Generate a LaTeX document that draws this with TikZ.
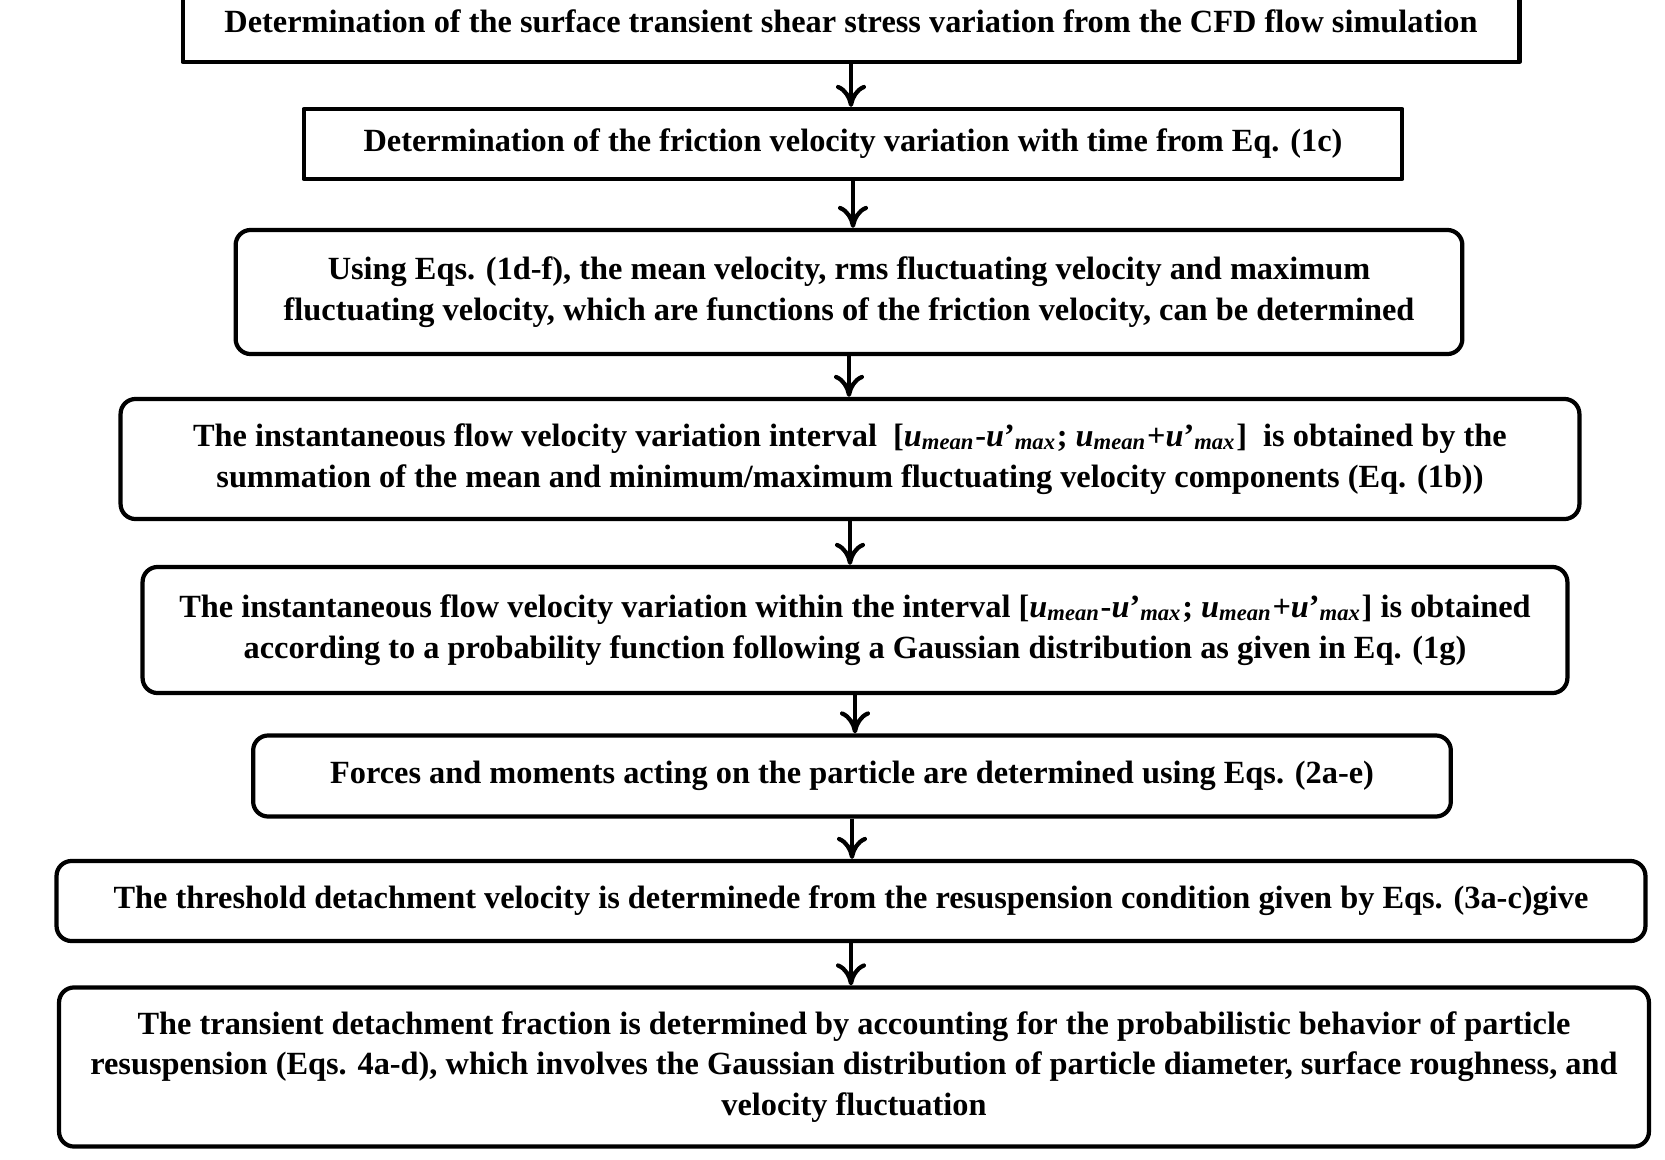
\documentclass[tikz,border=0pt]{standalone}
\usepackage{fontspec}
\setmainfont{Liberation Serif}
\usetikzlibrary{positioning}
\usetikzlibrary{arrows.meta}

\newcommand{\uint}{[\textit{u}\textsubscript{\textit{mean}}-\textit{u}’\textsubscript{\textit{max}}; \textit{u}\textsubscript{\textit{mean}}+\textit{u}’\textsubscript{\textit{max}}]}

\begin{document}
\begin{tikzpicture}[x=0.01cm,y=-0.01cm,line join=round,
  flowbox/.style={draw,very thick,align=center,inner sep=0pt,
    font=\fontsize{9.2}{11.6}\selectfont\bfseries},
  roundbox/.style={flowbox,rounded corners=0.15cm},
  flowarrow/.style={very thick,-{To[length=2.2mm,width=3mm]}}]
\useasboundingbox (0,0) rectangle (1665,1160);

\node[flowbox,minimum width=13.36cm,minimum height=0.82cm] (B1) at (851,21)
  {Determination of the surface transient shear stress variation from the CFD flow simulation};
\node[flowbox,minimum width=10.98cm,minimum height=0.70cm] (B2) at (853,144)
  {Determination of the friction velocity variation with time from Eq. (1c)};
\node[roundbox,minimum width=12.26cm,minimum height=1.24cm] (B3) at (849,292)
  {Using Eqs. (1d-f), the mean velocity, rms fluctuating velocity and maximum\\
   fluctuating velocity, which are functions of the friction velocity, can be determined};
\node[roundbox,minimum width=14.58cm,minimum height=1.20cm] (B4) at (850,459)
  {The instantaneous flow velocity variation interval \ \uint\ \ is obtained by the\\
   summation of the mean and minimum/maximum fluctuating velocity components (Eq. (1b))};
\node[roundbox,minimum width=14.24cm,minimum height=1.26cm] (B5) at (855,630)
  {The instantaneous flow velocity variation within the interval \uint\ is obtained\\
   according to a probability function following a Gaussian distribution as given in Eq. (1g)};
\node[roundbox,minimum width=11.97cm,minimum height=0.81cm] (B6) at (852,776)
  {Forces and moments acting on the particle are determined using Eqs. (2a-e)};
\node[roundbox,minimum width=15.88cm,minimum height=0.80cm] (B7) at (851,901)
  {The threshold detachment velocity is determinede from the resuspension condition given by Eqs. (3a-c)give};
\node[roundbox,minimum width=15.89cm,minimum height=1.59cm] (B8) at (854,1067)
  {The transient detachment fraction is determined by accounting for the probabilistic behavior of particle\\
   resuspension (Eqs. 4a-d), which involves the Gaussian distribution of particle diameter, surface roughness, and\\
   velocity fluctuation};

\draw[flowarrow] (B1.south) -- (B1.south |- B2.north);
\draw[flowarrow] (B2.south) -- (B2.south |- B3.north);
\draw[flowarrow] (B3.south) -- (B3.south |- B4.north);
\draw[flowarrow] (B4.south) -- (B4.south |- B5.north);
\draw[flowarrow] (B5.south) -- (B5.south |- B6.north);
\draw[flowarrow] (B6.south) -- (B6.south |- B7.north);
\draw[flowarrow] (B7.south) -- (B7.south |- B8.north);
\end{tikzpicture}
\end{document}
